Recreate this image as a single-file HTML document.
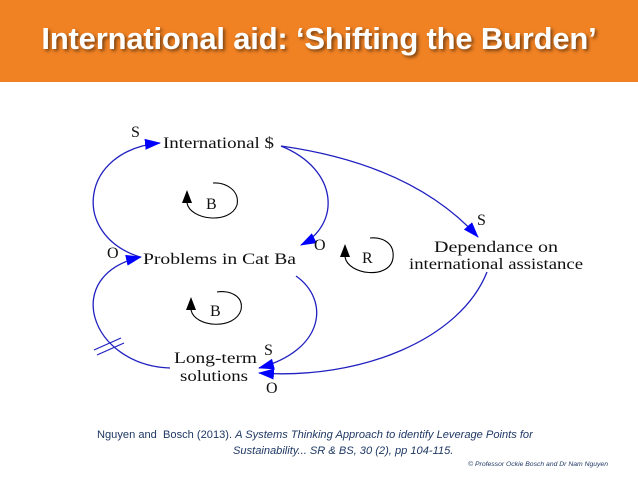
<!DOCTYPE html>
<html><head><meta charset="utf-8"><style>
body{margin:0;width:638px;height:478px;background:#fff;overflow:hidden;position:relative;font-family:"Liberation Sans",sans-serif}
.hdr{position:absolute;left:0;top:0;width:638px;height:82px;background:#f08224}
.ttl{position:absolute;left:0;width:638px;top:21px;text-align:center;color:#fff;font-weight:bold;font-size:31px;text-shadow:2px 2px 3px rgba(0,0,0,.5);letter-spacing:-0.2px}
.ref{position:absolute;left:97px;top:427px;font-size:11.1px;color:#1f3864;line-height:16px}
.cp{position:absolute;right:30px;top:461px;font-size:6.8px;font-style:italic;color:#1f3864}
svg{position:absolute;left:0;top:0}
</style></head><body>
<div class="hdr"></div>
<div class="ttl">International aid: ‘Shifting the Burden’</div>
<svg width="638" height="478" font-family="Liberation Serif,serif" font-size="16">
<defs><marker id="a" markerWidth="16" markerHeight="11" refX="15" refY="5.5" orient="auto" markerUnits="userSpaceOnUse"><path d="M0,0L16,5.5L0,11z" fill="#00f"/></marker></defs>
<g fill="none" stroke="#2020c0" stroke-width="1.3">
<path d="M140,257 C70,235 80,150 160,143" marker-end="url(#a)"/>
<path d="M281,146 C340,170 340,225 301,245" marker-end="url(#a)"/>
<path d="M281,146 C380,160 440,195 478,237" marker-end="url(#a)"/>
<path d="M296,276 C330,300 325,350 259,368" marker-end="url(#a)"/>
<path d="M487,272 C460,340 360,380 259,373" marker-end="url(#a)"/>
<path d="M170,368 C90,365 60,275 141,257" marker-end="url(#a)"/>
</g>
<g stroke="#2020c0" stroke-width="1.2"><line x1="94" y1="350" x2="121" y2="338"/><line x1="97" y1="355" x2="124" y2="343"/></g>
<g fill="none" stroke="#000" stroke-width="1.1">
<path d="M187,203 C190,220 230,225 237,205 C240,190 225,182 213,183"/>
<path d="M345,257 C348,275 390,280 393,258 C395,240 378,237 370,238"/>
<path d="M191,310 C195,328 235,330 241,310 C244,295 228,290 217,292"/>
</g>
<g fill="#000"><path d="M182,203L187,190L192,203z"/><path d="M340,257L345,244L350,257z"/><path d="M186,310L191,297L196,310z"/></g>
<g fill="#111">
<text x="163" y="148" textLength="111" lengthAdjust="spacingAndGlyphs">International $</text>
<text x="131" y="137">S</text>
<text x="143" y="264" textLength="153" lengthAdjust="spacingAndGlyphs">Problems in Cat Ba</text>
<text x="107" y="258">O</text>
<text x="314" y="250">O</text>
<text x="206" y="209">B</text>
<text x="210" y="316">B</text>
<text x="362" y="263">R</text>
<text x="477" y="225">S</text>
<text x="434" y="252" textLength="124" lengthAdjust="spacingAndGlyphs">Dependance on</text>
<text x="409" y="269" textLength="174" lengthAdjust="spacingAndGlyphs">international assistance</text>
<text x="264" y="355">S</text>
<text x="174" y="363" textLength="83" lengthAdjust="spacingAndGlyphs">Long-term</text>
<text x="180" y="381" textLength="68" lengthAdjust="spacingAndGlyphs">solutions</text>
<text x="266" y="393">O</text>
</g>
</svg>
<div class="ref">Nguyen and&nbsp; Bosch (2013). <i>A Systems Thinking Approach to identify Leverage Points for</i><br><span style="padding-left:136px"><i>Sustainability... SR &amp; BS, 30 (2), pp 104-115.</i></span></div>
<div class="cp">© Professor Ockie Bosch and Dr Nam Nguyen</div>
</body></html>
